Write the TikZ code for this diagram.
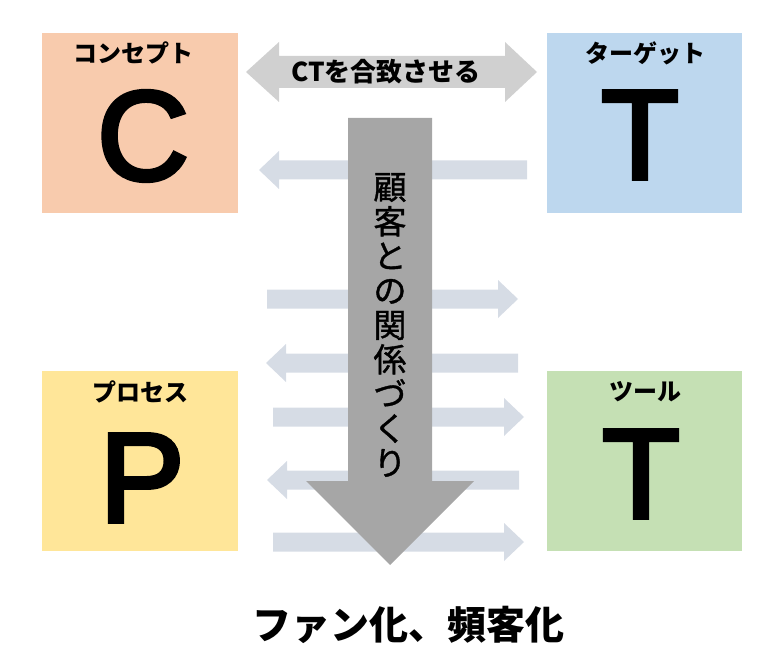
\documentclass[tikz,border=0pt]{standalone}
\usepackage{fontspec}
\setmainfont{Noto Sans CJK JP}
\newfontfamily\latinbig[FakeBold=3.5]{Liberation Sans}
\newfontfamily\jpmed[FakeBold=1.2]{Noto Sans CJK JP}
\definecolor{corange}{HTML}{F8CBAD}
\definecolor{cblue}{HTML}{BDD7EE}
\definecolor{cyellow}{HTML}{FFE699}
\definecolor{cgreen}{HTML}{C5E0B4}
\definecolor{cgreyl}{HTML}{D0D0D0}
\definecolor{cgreyd}{HTML}{A6A6A6}
\definecolor{cpale}{HTML}{D6DCE5}
\tikzset{
  lbl/.style={font=\bfseries\fontsize{24}{24}\selectfont, inner sep=0pt},
  big/.style={font=\latinbig\fontsize{127}{127}\selectfont, inner sep=0pt},
  palearr/.style={fill=cpale},
}
\newcommand{\leftarr}[3]{\fill[palearr] (#1,#3) -- ({#1+20},{#3-19}) -- ({#1+20},{#3-9.5}) -- (#2,{#3-9.5}) -- (#2,{#3+9.5}) -- ({#1+20},{#3+9.5}) -- ({#1+20},{#3+19}) -- cycle;}
\newcommand{\rightarr}[3]{\fill[palearr] (#1,#3) -- ({#1-20},{#3-19}) -- ({#1-20},{#3-9.5}) -- (#2,{#3-9.5}) -- (#2,{#3+9.5}) -- ({#1-20},{#3+9.5}) -- ({#1-20},{#3+19}) -- cycle;}
\begin{document}
\begin{tikzpicture}[x=1pt,y=-1pt]
\useasboundingbox (0,0) rectangle (781,655);
% boxes
\fill[corange] (42,33) rectangle (238,213);
\fill[cblue] (547,33) rectangle (742,213);
\fill[cyellow] (42,371) rectangle (238,551);
\fill[cgreen] (547,371) rectangle (742,551);
\node[lbl] (lc) at (133,53) {コンセプト};
\node[lbl] (lt1) at (645,53) {ターゲット};
\node[lbl] (lp) at (140,392) {プロセス};
\node[lbl] (lt2) at (645,392) {ツール};
\node[big] (bc) at (143,136) {C};
\node[big] (bt1) at (640,135) {T};
\node[big] (bp) at (142,478) {P};
\node[big] (bt2) at (641,474) {T};
% double arrow
\fill[cgreyl] (246,72) -- (279,42) -- (279,56) -- (505,56) -- (505,42) -- (537,72) -- (505,102) -- (505,88) -- (279,88) -- (279,102) -- cycle;
\node[font=\bfseries\fontsize{26}{26}\selectfont, inner sep=0pt] (ct) at (386,72) {CTを合致させる};
% pale arrows
\leftarr{259}{527}{170}
\rightarr{518}{267}{299}
\leftarr{266}{518}{363}
\rightarr{524}{273}{417}
\leftarr{267}{519}{480}
\rightarr{524}{273}{542}
% main down arrow
\fill[cgreyd] (348,118) -- (432,118) -- (432,481) -- (474,481) -- (390,565) -- (306,481) -- (348,481) -- cycle;
\node[font=\jpmed\fontsize{33}{34.5}\selectfont, align=center, inner sep=0pt] (vt) at (390,325) {顧\\客\\と\\の\\関\\係\\づ\\く\\り};
% bottom text
\node[font=\bfseries\fontsize{39}{39}\selectfont, inner sep=0pt] (bottom) at (408,625) {ファン化、頻客化};
\end{tikzpicture}
\end{document}
